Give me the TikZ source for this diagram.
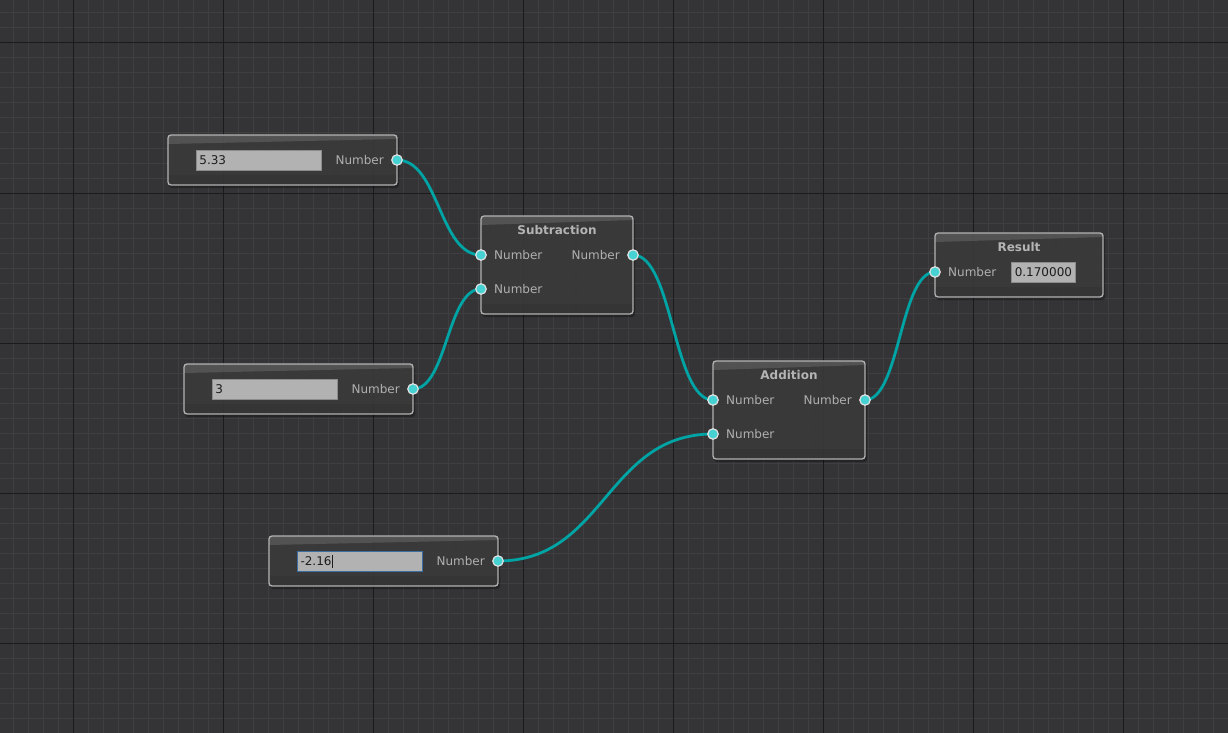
\documentclass[tikz,border=0pt]{standalone}
\usepackage{fontspec}
\setmainfont{DejaVu Sans}
\usetikzlibrary{fit}
\definecolor{bgcol}{RGB}{52,52,55}
\definecolor{minorcol}{RGB}{63,63,66}
\definecolor{majorcol}{RGB}{27,27,28}
\definecolor{nodecol}{RGB}{62,62,63}
\definecolor{bordercol}{RGB}{178,178,178}
\definecolor{wirecol}{RGB}{0,164,164}
\definecolor{portcol}{RGB}{70,210,210}
\definecolor{portring}{RGB}{225,225,225}
\definecolor{lblcol}{RGB}{176,176,176}
\definecolor{titlecol}{RGB}{180,180,180}
\definecolor{boxcol}{RGB}{178,178,178}
\definecolor{boxedge}{RGB}{140,140,140}
\definecolor{focusedge}{RGB}{60,110,160}
\definecolor{valcol}{RGB}{28,28,30}
\tikzset{
  frame/.style={draw=bordercol, line width=1.3pt, rounded corners=3pt, inner sep=0pt},
  port/.style={circle, fill=portcol, draw=portring, line width=1.2pt, minimum size=10.5pt, inner sep=0pt},
  wire/.style={draw=wirecol, line width=2.8pt},
  lbl/.style={text=lblcol, font=\fontsize{12}{14}\selectfont, inner sep=0pt},
  title/.style={text=titlecol, font=\fontsize{12}{14}\selectfont\bfseries, inner sep=0pt},
  valbox/.style={fill=boxcol, draw=boxedge, line width=0.8pt, text=valcol, font=\fontsize{12}{14}\selectfont,
     minimum height=20pt, inner xsep=3pt, inner ysep=0pt, align=left, anchor=west}
}
\newcommand\gbox[5]{%
  \fill[black, opacity=0.3, rounded corners=3pt] (#2+1,#3+2) rectangle (#4+2,#5+3);
  \begin{scope}
    \clip[rounded corners=3pt] (#2,#3) rectangle (#4,#5);
    \fill[nodecol, fill opacity=0.82] (#2,#3) rectangle (#4,#5);
    \fill[black, opacity=0.06] (#2,#5-10) rectangle (#4,#5);
    \fill[white, opacity=0.13] (#2,#3) -- (#4,#3) -- (#4,#3+4) -- (#2,#3+9) -- cycle;
  \end{scope}
  \node[frame, fit={(#2,#3) (#4,#5)}] (#1) {};
}
\begin{document}
\begin{tikzpicture}[x=1pt, y=-1pt]
\useasboundingbox (0,0) rectangle (1228,733);
\fill[bgcol] (0,0) rectangle (1228,733);
% grid
\foreach \x in {13,28,...,1228} \draw[minorcol, line width=1pt] (\x,0) -- (\x,733);
\foreach \y in {13,28,...,733} \draw[minorcol, line width=1pt] (0,\y) -- (1228,\y);
\foreach \x in {73,223,...,1228} \draw[majorcol, line width=1pt] (\x,0) -- (\x,733);
\foreach \y in {43,193,...,733} \draw[majorcol, line width=1pt] (0,\y) -- (1228,\y);

% node boxes
\gbox{na}{168}{135}{397}{185}
\gbox{nb}{184}{364}{413}{414}
\gbox{nc}{269}{536}{498}{586}
\gbox{sub}{481}{216}{633}{314}
\gbox{add}{713}{361}{865}{459}
\gbox{res}{935}{233}{1103}{297}

% value boxes
\node[valbox, text width=119pt] (va) at (196,160) {5.33};
\node[valbox, text width=119pt] (vb) at (212,389) {3};
\node[valbox, text width=119pt, draw=focusedge, line width=1pt] (vc) at (297,561) {-2.16\kern0.6pt\rule[-2.5pt]{0.8pt}{13pt}};
\node[valbox, text width=58pt, align=center] (vr) at (1011,272) {0.170000};

% labels
\node[lbl, anchor=east] (la) at (384,160) {Number};
\node[lbl, anchor=east] (lb) at (400,389) {Number};
\node[lbl, anchor=east] (lc) at (485,561) {Number};
\node[title] (tsub) at (557,230.5) {Subtraction};
\node[lbl, anchor=west] (ls1) at (494,255) {Number};
\node[lbl, anchor=west] (ls2) at (494,289) {Number};
\node[lbl, anchor=east] (lso) at (620,255) {Number};
\node[title] (tadd) at (789,375.5) {Addition};
\node[lbl, anchor=west] (la1) at (726,400) {Number};
\node[lbl, anchor=west] (la2) at (726,434) {Number};
\node[lbl, anchor=east] (lao) at (852,400) {Number};
\node[title] (tres) at (1019,247.5) {Result};
\node[lbl, anchor=west] (lr) at (948,272) {Number};

% port coordinates
\coordinate (pa) at (397,160);
\coordinate (pb) at (413,389);
\coordinate (pc) at (498,561);
\coordinate (ps1) at (481,255);
\coordinate (ps2) at (481,289);
\coordinate (pso) at (633,255);
\coordinate (pa1) at (713,400);
\coordinate (pa2) at (713,434);
\coordinate (pao) at (865,400);
\coordinate (pr) at (935,272);

% wires
\draw[wire] (pa) .. controls +(42,0) and +(-42,0) .. (ps1);
\draw[wire] (pb) .. controls +(34,0) and +(-34,0) .. (ps2);
\draw[wire] (pso) .. controls +(40,0) and +(-40,0) .. (pa1);
\draw[wire] (pc) .. controls +(107,0) and +(-107,0) .. (pa2);
\draw[wire] (pao) .. controls +(35,0) and +(-35,0) .. (pr);

% ports
\foreach \p in {pa,pb,pc,ps1,ps2,pso,pa1,pa2,pao,pr}
  \node[port] (\p-dot) at (\p) {};
\end{tikzpicture}
\end{document}
